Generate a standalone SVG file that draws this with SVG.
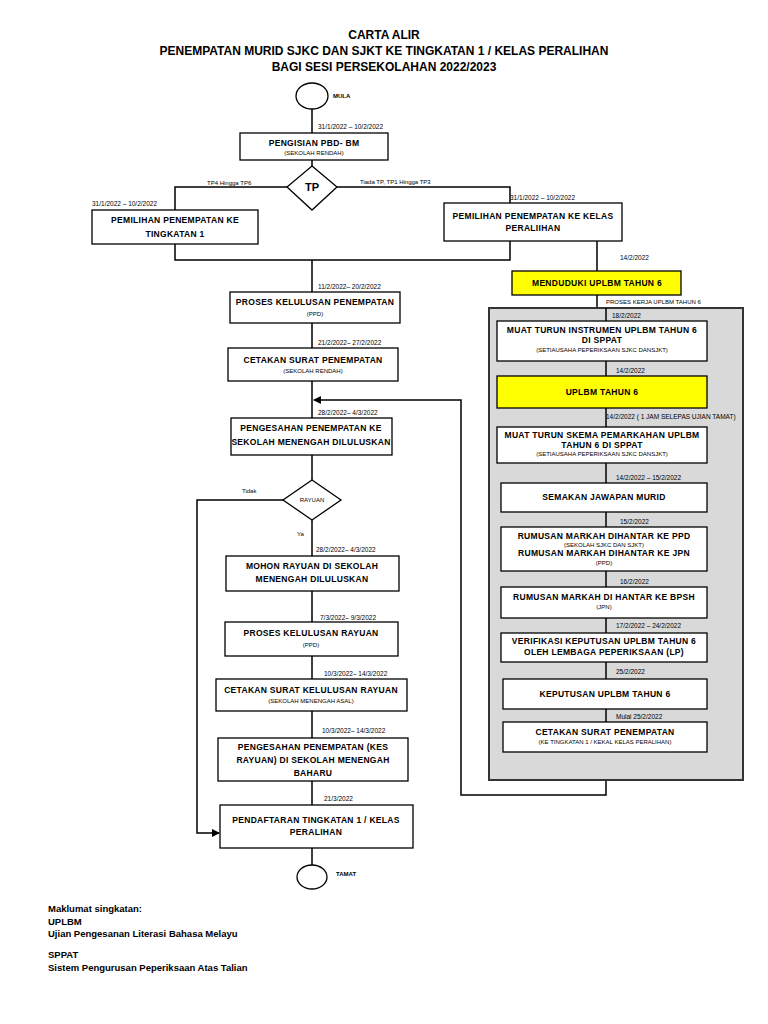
<svg xmlns="http://www.w3.org/2000/svg" width="768" height="1024" viewBox="0 0 768 1024">
<defs>
<marker id="ah" markerWidth="8" markerHeight="8" refX="7" refY="4" orient="auto" markerUnits="userSpaceOnUse"><path d="M0,0 L8,4 L0,8 z" fill="#000"/></marker>
<style>
text{font-family:"Liberation Sans","Noto Sans",Arial,sans-serif;fill:#000}
.t{font-size:12px;font-weight:bold;text-anchor:middle}
.b{font-size:8.5px;font-weight:bold;text-anchor:middle;letter-spacing:0.3px}
.s{font-size:6px;text-anchor:middle}
.d{font-size:6.5px}
.l{font-size:6px}
.f{font-size:9.5px;font-weight:bold}
.bx{fill:#fff;stroke:#000;stroke-width:1.3}
.y{fill:#ffff00;stroke:#000;stroke-width:1.3}
.c{fill:none;stroke:#000;stroke-width:1.5}
</style>
</defs>
<g id="title">
<text class="t" x="384" y="39">CARTA ALIR</text>
<text class="t" x="384" y="55">PENEMPATAN MURID SJKC DAN SJKT KE TINGKATAN 1 / KELAS PERALIHAN</text>
<text class="t" x="384" y="71">BAGI SESI PERSEKOLAHAN 2022/2023</text>
</g>

<g id="connectors">
<path class="c" d="M312,109 V133 M312,160 V166 M287,187 H175 V210 M337,187 H510 V203 M175,244 V260 H510 V241 M312,260 V292 M312,323 V348 M312,381 V418 M312,455 V480 M312,520 V556 M312,591 V622 M312,656 V679 M312,711 V738 M312,781 V805 M312,848 V865"/>
<path class="c" d="M283,500 H197 V833 H219" marker-end="url(#ah)"/>
<path class="c" d="M597,241 V271 M597,295 V308"/>
<path class="c" d="M606,780 V795 H461 V400 H314" marker-end="url(#ah)"/>
</g>

<g id="grey"><rect x="489" y="308" width="254" height="472" fill="#d9d9d9" stroke="#333" stroke-width="2"/>
<path class="c" d="M606,308 V722"/></g>

<g id="mula"><ellipse cx="312" cy="96" rx="16" ry="13" class="bx"/><text class="l" x="333" y="98" font-weight="bold">MULA</text></g>
<g id="pengisian"><text class="d" x="318" y="129">31/1/2022 – 10/2/2022</text><rect class="bx" x="240" y="133" width="148" height="27"/><text class="b" x="314" y="146">PENGISIAN PBD- BM</text><text class="s" x="314" y="155">(SEKOLAH RENDAH)</text></g>
<g id="tp"><polygon class="bx" points="312,166 337,187 312,210 287,187"/><text x="312" y="191" text-anchor="middle" font-size="11" font-weight="bold">TP</text>
<text class="l" x="207" y="185">TP4 Hingga TP6</text><text class="l" x="360" y="184">Tiada TP, TP1 Hingga TP3</text></g>
<g id="pilihan1"><text class="d" x="92" y="206">31/1/2022 – 10/2/2022</text><rect class="bx" x="92" y="210" width="166" height="34"/><text class="b" x="175" y="223">PEMILIHAN PENEMPATAN KE</text><text class="b" x="175" y="237">TINGKATAN 1</text></g>
<g id="pilihan2"><text class="d" x="510" y="200">31/1/2022 – 10/2/2022</text><rect class="bx" x="444" y="203" width="178" height="38"/><text class="b" x="533" y="219">PEMILIHAN PENEMPATAN KE KELAS</text><text class="b" x="533" y="231">PERALIIHAN</text></g>
<g id="menduduki"><text class="d" x="620" y="260">14/2/2022</text><rect class="y" x="512" y="271" width="169" height="24"/><text class="b" x="597" y="286">MENDUDUKI UPLBM TAHUN 6</text><text class="l" x="606" y="304">PROSES KERJA UPLBM TAHUN 6</text></g>

<g id="r1"><text class="d" x="612" y="318">18/2/2022</text><rect class="bx" x="497" y="321" width="210" height="40"/><text class="b" x="602" y="333">MUAT TURUN INSTRUMEN UPLBM TAHUN 6</text><text class="b" x="602" y="343">DI SPPAT</text><text class="s" x="602" y="352">(SETIAUSAHA PEPERIKSAAN SJKC DANSJKT)</text></g>
<g id="r2"><text class="d" x="616" y="373">14/2/2022</text><rect class="y" x="497" y="376" width="210" height="32"/><text class="b" x="602" y="395">UPLBM TAHUN 6</text></g>
<g id="r3"><text class="d" x="606" y="419">14/2/2022 ( 1 JAM SELEPAS UJIAN TAMAT)</text><rect class="bx" x="497" y="427" width="210" height="36"/><text class="b" x="602" y="438">MUAT TURUN SKEMA PEMARKAHAN UPLBM</text><text class="b" x="602" y="448">TAHUN 6 DI SPPAT</text><text class="s" x="602" y="456">(SETIAUSAHA PEPERIKSAAN SJKC DANSJKT)</text></g>
<g id="r4"><text class="d" x="616" y="480">14/2/2022 – 15/2/2022</text><rect class="bx" x="501" y="483" width="206" height="29"/><text class="b" x="604" y="500">SEMAKAN JAWAPAN MURID</text></g>
<g id="r5"><text class="d" x="620" y="524">15/2/2022</text><rect class="bx" x="501" y="527" width="206" height="44"/><text class="b" x="604" y="539">RUMUSAN MARKAH DIHANTAR KE PPD</text><text class="s" x="604" y="547">(SEKOLAH SJKC DAN SJKT)</text><text class="b" x="604" y="556">RUMUSAN MARKAH DIHANTAR KE JPN</text><text class="s" x="604" y="565">(PPD)</text></g>
<g id="r6"><text class="d" x="620" y="584">16/2/2022</text><rect class="bx" x="501" y="587" width="206" height="31"/><text class="b" x="604" y="600">RUMUSAN MARKAH DI HANTAR KE BPSH</text><text class="s" x="604" y="609">(JPN)</text></g>
<g id="r7"><text class="d" x="616" y="628">17/2/2022 – 24/2/2022</text><rect class="bx" x="501" y="633" width="206" height="29"/><text class="b" x="604" y="644">VERIFIKASI KEPUTUSAN UPLBM TAHUN 6</text><text class="b" x="604" y="655">OLEH LEMBAGA PEPERIKSAAN (LP)</text></g>
<g id="r8"><text class="d" x="616" y="674">25/2/2022</text><rect class="bx" x="503" y="679" width="204" height="30"/><text class="b" x="605" y="697">KEPUTUSAN UPLBM TAHUN 6</text></g>
<g id="r9"><text class="d" x="616" y="719">Mulai 25/2/2022</text><rect class="bx" x="503" y="722" width="204" height="30"/><text class="b" x="605" y="735">CETAKAN SURAT PENEMPATAN</text><text class="s" x="605" y="744">(KE TINGKATAN 1 / KEKAL KELAS PERALIHAN)</text></g>

<g id="proses"><text class="d" x="318" y="289">11/2/2022– 20/2/2022</text><rect class="bx" x="230" y="292" width="170" height="31"/><text class="b" x="315" y="305">PROSES KELULUSAN PENEMPATAN</text><text class="s" x="315" y="316">(PPD)</text></g>
<g id="cetakan"><text class="d" x="318" y="345">21/2/2022– 27/2/2022</text><rect class="bx" x="228" y="348" width="170" height="33"/><text class="b" x="313" y="363">CETAKAN SURAT PENEMPATAN</text><text class="s" x="313" y="373">(SEKOLAH RENDAH)</text></g>
<g id="pengesahan"><text class="d" x="318" y="415">28/2/2022– 4/3/2022</text><rect class="bx" x="231" y="418" width="161" height="37"/><text class="b" x="311" y="431">PENGESAHAN PENEMPATAN KE</text><text class="b" x="311" y="445">SEKOLAH MENENGAH DILULUSKAN</text></g>
<g id="rayuan"><polygon class="bx" points="312,480 341,500 312,520 283,500"/><text class="l" x="312" y="502" text-anchor="middle">RAYUAN</text><text class="l" x="242" y="493">Tidak</text><text class="l" x="297" y="536">Ya</text></g>
<g id="mohon"><text class="d" x="316" y="552">28/2/2022– 4/3/2022</text><rect class="bx" x="226" y="556" width="173" height="35"/><text class="b" x="312" y="569">MOHON RAYUAN DI SEKOLAH</text><text class="b" x="312" y="582">MENENGAH DILULUSKAN</text></g>
<g id="prosesr"><text class="d" x="320" y="620">7/3/2022– 9/3/2022</text><rect class="bx" x="225" y="622" width="173" height="34"/><text class="b" x="311" y="636">PROSES KELULUSAN RAYUAN</text><text class="s" x="311" y="647">(PPD)</text></g>
<g id="cetakr"><text class="d" x="324" y="676">10/3/2022– 14/3/2022</text><rect class="bx" x="216" y="679" width="191" height="32"/><text class="b" x="311" y="693">CETAKAN SURAT KELULUSAN RAYUAN</text><text class="s" x="311" y="703">(SEKOLAH MENENGAH ASAL)</text></g>
<g id="pengkes"><text class="d" x="322" y="733">10/3/2022– 14/3/2022</text><rect class="bx" x="218" y="738" width="190" height="43"/><text class="b" x="313" y="750">PENGESAHAN PENEMPATAN (KES</text><text class="b" x="313" y="763">RAYUAN) DI SEKOLAH MENENGAH</text><text class="b" x="313" y="776">BAHARU</text></g>
<g id="daftar"><text class="d" x="324" y="801">21/3/2022</text><rect class="bx" x="220" y="805" width="193" height="43"/><text class="b" x="316" y="823">PENDAFTARAN TINGKATAN 1 / KELAS</text><text class="b" x="316" y="835">PERALIHAN</text></g>
<g id="tamat"><ellipse cx="312" cy="877" rx="15" ry="12" class="bx"/><text class="l" x="336" y="876" font-weight="bold">TAMAT</text></g>

<g id="notes">
<text class="f" x="48" y="912">Maklumat singkatan:</text>
<text class="f" x="48" y="925">UPLBM</text>
<text class="f" x="48" y="937">Ujian Pengesanan Literasi Bahasa Melayu</text>
<text class="f" x="48" y="958">SPPAT</text>
<text class="f" x="48" y="971">Sistem Pengurusan Peperiksaan Atas Talian</text>
</g>
</svg>
